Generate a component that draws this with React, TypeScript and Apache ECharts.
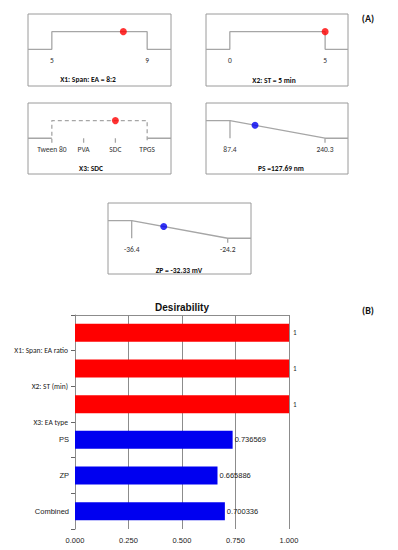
import React, { useEffect, useRef } from "react";
import * as echarts from "echarts";

// ---------- Panel (A) data ----------
const p1Ramp = [[4, 0], [5, 0], [5, 1], [9, 1], [9, 0], [10, 0]];
const p1Ticks = [5, 9];
const p1Point = [8, 1];
const p1Caption = "X1: Span: EA = 8:2";

const p2Ramp = [[-1.25, 0], [0, 0], [0, 1], [5, 1], [5, 0], [6.2, 0]];
const p2Ticks = [0, 5];
const p2Point = [5, 1];
const p2Caption = "X2: ST = 5 min";

const p3Categories = ["Tween 80", "PVA", "SDC", "TPGS"];
const p3LeftSolid = [[-0.75, 0], [0, 0]];
const p3Dashed = [[0, -0.25], [0, 1], [3, 1], [3, -0.25]];
const p3RightSolid = [[3, 0], [3.75, 0]];
const p3SmallTicks = [1, 2];
const p3Point = [2, 1];
const p3Caption = "X3: SDC";

const p4Ramp = [[48.8, 1], [87.4, 1], [240.3, 0], [277.3, 0]];
const p4Ticks = [87.4, 240.3];
const p4TickSegs = [[[87.4, 0], [87.4, 1]], [[240.3, -0.25], [240.3, 0]]];
const p4Point = [127.69, 0.736569];
const p4Caption = "PS =127.69 nm";

const p5Ramp = [[-39.41, 1], [-36.4, 1], [-24.2, 0], [-21.24, 0]];
const p5Ticks = [-36.4, -24.2];
const p5TickSegs = [[[-36.4, 0], [-36.4, 1]], [[-24.2, -0.25], [-24.2, 0]]];
const p5Point = [-32.33, 0.665886];
const p5Caption = "ZP = -32.33 mV";

// ---------- Panel (B) data ----------
const barCategories = ["X1: Span: EA ratio", "X2: ST (min)", "X3: EA type", "PS", "ZP", "Combined"];
const factorLabels = ["X1: Span: EA ratio", "X2: ST (min)", "X3: EA type"];
const responseLabels = ["PS", "ZP", "Combined"];
const barValues = [1, 1, 1, 0.736569, 0.665886, 0.700336];
const barLabels = ["1", "1", "1", "0.736569", "0.665886", "0.700336"];

const CAL = "Carlito, Calibri, Lato, sans-serif";
const ARIAL = "Liberation Sans, Arial, sans-serif";
const GRAY = "#a6a6a6";
const RED = "#ff0000";
const BLUE = "#0000f0";

export default function App() {
  const ref = useRef<HTMLDivElement>(null);
  useEffect(() => {
    if (!ref.current) return;
    const chart = echarts.init(ref.current, undefined, { renderer: "svg" });

    const panelGrids = [
      { left: 28, top: 14, width: 143, height: 72 },
      { left: 206, top: 14, width: 142, height: 72 },
      { left: 28, top: 103, width: 143, height: 71 },
      { left: 206, top: 103, width: 142, height: 71 },
      { left: 108, top: 203, width: 143, height: 71 },
    ];
    const ranges = [
      [4, 10],
      [-1.25, 6.2],
      [-0.75, 3.75],
      [48.8, 277.3],
      [-39.41, -21.24],
    ];
    const tickLists: number[][] = [p1Ticks, p2Ticks, [0, 1, 2, 3], p4Ticks, p5Ticks];

    const grids: any[] = panelGrids.map((g) => ({
      ...g,
      show: true,
      borderColor: "#9a9a9a",
      borderWidth: 1,
      backgroundColor: "transparent",
    }));
    grids.push({ left: 75, top: 315, right: 109, bottom: 21 });

    const xAxes: any[] = panelGrids.map((g, i) => ({
      type: "value",
      gridIndex: i,
      min: ranges[i][0],
      max: ranges[i][1],
      axisLine: { show: false },
      axisTick: { show: false },
      splitLine: { show: false },
      axisLabel: {
        customValues: tickLists[i],
        margin: -(g.height - 42),
        fontSize: 7.5,
        fontFamily: CAL,
        color: "#333",
        formatter: (v: number) => (i === 2 ? p3Categories[Math.round(v)] : String(v)),
      },
    }));
    const yAxes: any[] = panelGrids.map((g, i) => ({
      type: "value",
      gridIndex: i,
      min: g.height === 72 ? -2.08 : -2.03,
      max: 2.0,
      show: false,
    }));

    // bar chart axes
    xAxes.push({
      type: "value",
      gridIndex: 5,
      min: 0,
      max: 1,
      interval: 0.25,
      axisLine: { show: false },
      axisTick: { show: true, length: 3, lineStyle: { color: "#888" } },
      splitLine: { show: true, lineStyle: { color: "#8c8c8c", width: 1 } },
      axisLabel: {
        fontSize: 7.5,
        fontFamily: ARIAL,
        color: "#222",
        margin: 7,
        formatter: (v: number) => v.toFixed(3),
      },
    });
    xAxes.push({
      type: "value",
      gridIndex: 5,
      position: "top",
      min: 0,
      max: 1,
      axisLine: { show: true, lineStyle: { color: "#8c8c8c" } },
      axisTick: { show: false },
      axisLabel: { show: false },
      splitLine: { show: false },
    });
    yAxes.push({
      type: "category",
      gridIndex: 5,
      inverse: true,
      data: barCategories,
      axisLine: { show: true, lineStyle: { color: "#8c8c8c" } },
      axisTick: { show: true, length: 4, lineStyle: { color: "#666" } },
      axisLabel: {
        fontSize: 7.5,
        fontFamily: ARIAL,
        color: "#222",
        margin: 6,
        formatter: (v: string) => (responseLabels.includes(v) ? v : ""),
      },
    });
    yAxes.push({
      type: "value",
      gridIndex: 5,
      position: "left",
      inverse: true,
      min: 0,
      max: 6,
      interval: 1,
      axisLine: { show: false },
      axisTick: { show: false },
      splitLine: { show: false },
      axisLabel: {
        fontSize: 7.5,
        fontFamily: CAL,
        color: "#222",
        margin: 7,
        formatter: (v: number) => (v >= 1 && v <= 3 ? factorLabels[v - 1] : ""),
      },
    });

    const lineSeries = (idx: number, data: any[], dashed = false) => ({
      type: "line",
      xAxisIndex: idx,
      yAxisIndex: idx,
      data,
      symbol: "none",
      silent: true,
      lineStyle: { color: GRAY, width: 1.3, type: dashed ? [4, 3] : "solid" },
    });
    const dot = (idx: number, p: number[], color: string) => ({
      type: "scatter",
      xAxisIndex: idx,
      yAxisIndex: idx,
      data: [p],
      symbolSize: 7,
      itemStyle: { color },
      z: 5,
    });

    const series: any[] = [
      lineSeries(0, p1Ramp),
      dot(0, p1Point, RED),
      lineSeries(1, p2Ramp),
      dot(1, p2Point, RED),
      lineSeries(2, p3LeftSolid),
      lineSeries(2, p3RightSolid),
      lineSeries(2, p3Dashed, true),
      ...p3SmallTicks.map((t) => lineSeries(2, [[t, -0.25], [t, 0]])),
      dot(2, p3Point, RED),
      lineSeries(3, p4Ramp),
      ...p4TickSegs.map((s) => lineSeries(3, s)),
      dot(3, p4Point, BLUE),
      lineSeries(4, p5Ramp),
      ...p5TickSegs.map((s) => lineSeries(4, s)),
      dot(4, p5Point, BLUE),
      {
        type: "bar",
        xAxisIndex: 5,
        yAxisIndex: 5,
        barWidth: 18,
        data: barValues.map((v, i) => {
          const isFactor = i < 3;
          return {
            value: v,
            itemStyle: { color: isFactor ? RED : BLUE },
            label: {
              show: true,
              position: "right",
              distance: isFactor ? 4 : 2,
              formatter: barLabels[i],
              fontSize: isFactor ? 7 : 7.5,
              fontFamily: isFactor ? CAL : ARIAL,
              color: "#222",
            },
          };
        }),
      },
    ];

    const captions = [
      { text: p1Caption, x: 88, y: 79 },
      { text: p2Caption, x: 274, y: 80 },
      { text: p3Caption, x: 91, y: 168 },
      { text: p4Caption, x: 281, y: 168 },
      { text: p5Caption, x: 179, y: 270 },
    ];

    const graphic: any[] = [
      ...captions.map((c) => ({
        type: "text",
        x: c.x,
        y: c.y,
        style: {
          text: c.text,
          fontSize: 7.5,
          fontWeight: "bold",
          fontFamily: CAL,
          fill: "#111",
          textAlign: "center",
          textVerticalAlign: "middle",
        },
      })),
      {
        type: "text",
        x: 368,
        y: 18,
        style: { text: "(A)", fontSize: 10, fontWeight: "bold", fontFamily: CAL, fill: "#111", textAlign: "center", textVerticalAlign: "middle" },
      },
      {
        type: "text",
        x: 368,
        y: 310,
        style: { text: "(B)", fontSize: 10, fontWeight: "bold", fontFamily: CAL, fill: "#111", textAlign: "center", textVerticalAlign: "middle" },
      },
      {
        type: "text",
        x: 182,
        y: 307,
        style: { text: "Desirability", fontSize: 10, fontWeight: "bold", fontFamily: ARIAL, fill: "#111", textAlign: "center", textVerticalAlign: "middle" },
      },
    ];

    chart.setOption({
      animation: false,
      backgroundColor: "#ffffff",
      grid: grids,
      xAxis: xAxes,
      yAxis: yAxes,
      series,
      graphic,
    });
    return () => chart.dispose();
  }, []);
  return (
    <div
      ref={ref}
      style={{ position: "fixed", left: 0, top: 0, width: 398, height: 550 }}
    />
  );
}
